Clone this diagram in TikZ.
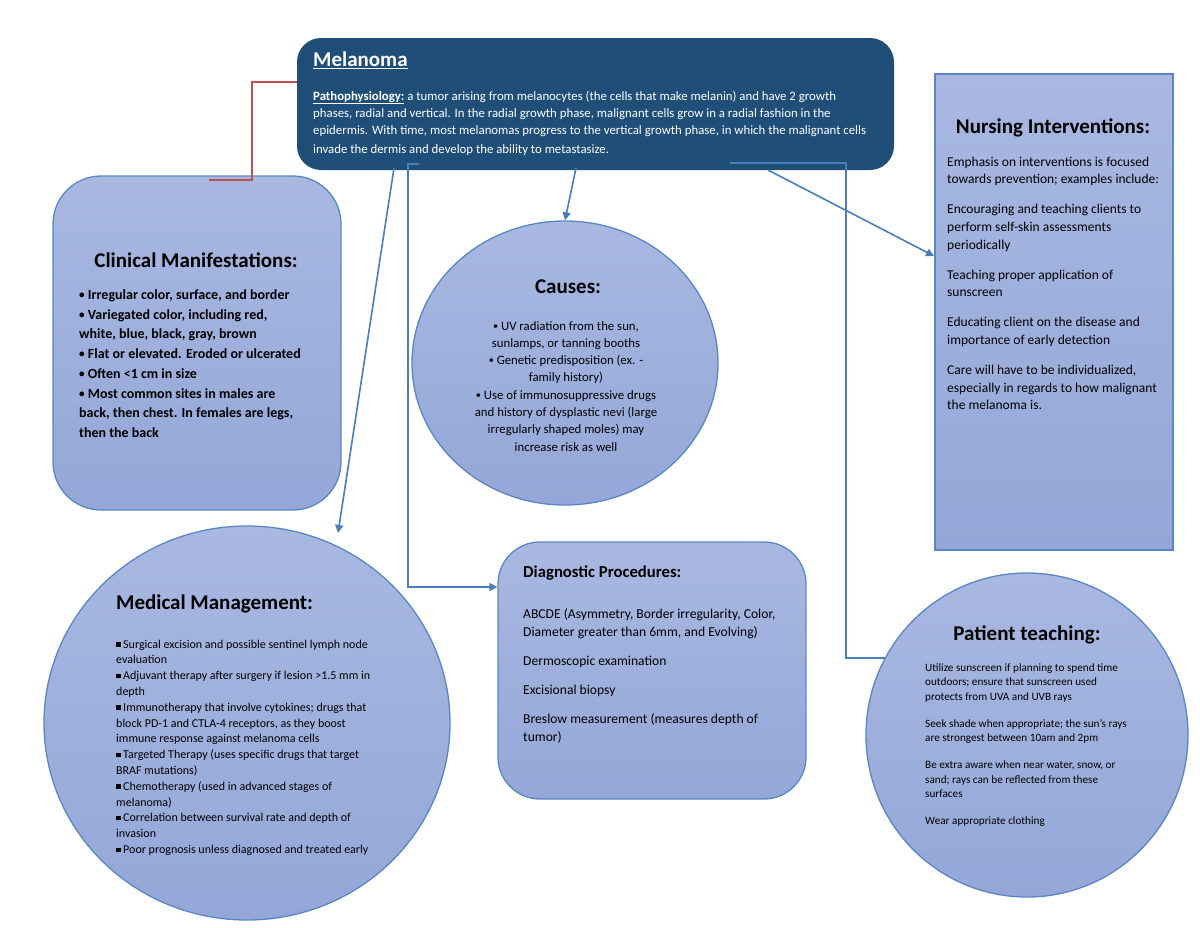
\documentclass[tikz,border=0pt]{standalone}
\usepackage{fontspec}
\setmainfont{Carlito}
\usetikzlibrary{shapes.geometric,arrows.meta}
\definecolor{darkbox}{HTML}{1F4E79}
\definecolor{boxtop}{HTML}{A8B8E1}
\definecolor{boxbot}{HTML}{94A7D8}
\definecolor{edgeblue}{HTML}{5A87C4}
\definecolor{linkblue}{HTML}{4A7EBB}
\definecolor{redlink}{HTML}{C0504D}
\newcommand{\fsz}[2]{\fontsize{#1}{#2}\selectfont}
\newcommand{\mmbul}{\rule[0.12em]{0.36em}{0.36em}}
\newcommand{\smbul}{\raisebox{0.06em}{\scalebox{0.8}{\textbullet}}}
\begin{document}
\begin{tikzpicture}[x=1pt,y=-1pt,
  shapebox/.style={draw=edgeblue, line width=1.3pt, top color=boxtop, bottom color=boxbot, inner sep=0pt},
  lbl/.style={inner sep=0pt, anchor=north west, align=left, text=black},
  ttl/.style={inner sep=0pt, font=\bfseries\fsz{21}{24}, text=black},
  conn/.style={draw=linkblue, line width=1.6pt},
  arr/.style={conn, -{Triangle[width=8pt,length=8pt]}},
  redconn/.style={draw=redlink, line width=1.6pt}]
\useasboundingbox (0,0) rectangle (1200,927);
\fill[white] (0,0) rectangle (1200,927);

% shapes
\node[fill=darkbox, rounded corners=24pt, minimum width=597pt, minimum height=132pt, inner sep=0pt] (mel) at (595.5,104) {};
\node[shapebox, rounded corners=48pt, minimum width=288pt, minimum height=334pt] (clin) at (197,343) {};
\node[shapebox, ellipse, minimum width=306pt, minimum height=284pt] (caus) at (565,363) {};
\node[shapebox, rectangle, minimum width=238pt, minimum height=476pt] (nurs) at (1054,312) {};
\node[shapebox, ellipse, minimum width=406pt, minimum height=394pt] (med) at (247,723) {};
\node[shapebox, rounded corners=42pt, minimum width=308pt, minimum height=257pt] (diag) at (652,670.5) {};
\node[shapebox, ellipse, minimum width=322pt, minimum height=324pt] (pat) at (1027,735) {};

% texts
\node[lbl, text=white, font=\bfseries\fsz{21}{24}] (meltitle) at (313,52) {\underline{Melanoma}};
\node[lbl, text=white, font=\fsz{12.8}{17}] (meltext) at (313,90.5) {\textbf{\underline{Pathophysiology:}} a tumor arising from melanocytes (the cells that make melanin) and have 2 growth\\
phases, radial and vertical. In the radial growth phase, malignant cells grow in a radial fashion in the\\
epidermis. With time, most melanomas progress to the vertical growth phase, in which the malignant cells\\[2.5pt]
invade the dermis and develop the ability to metastasize.};

\node[ttl] (clintitle) at (196,260) {Clinical Manifestations:};
\node[lbl, font=\bfseries\fsz{14}{19.7}] (clintext) at (79,289.5) {\smbul{} Irregular color, surface, and border\\
\smbul{} Variegated color, including red,\\
white, blue, black, gray, brown\\
\smbul{} Flat or elevated. Eroded or ulcerated\\
\smbul{} Often <1 cm in size\\
\smbul{} Most common sites in males are\\
back, then chest. In females are legs,\\
then the back};

\node[ttl] (caustitle) at (568,287) {Causes:};
\node[inner sep=0pt, anchor=north, align=center, font=\fsz{12.8}{17.3}] (caustext) at (566,321) {\smbul{} UV radiation from the sun,\\
sunlamps, or tanning booths\\
\smbul{} Genetic predisposition (ex. -\\
family history)\\
\smbul{} Use of immunosuppressive drugs\\
and history of dysplastic nevi (large\\
irregularly shaped moles) may\\
increase risk as well};

\node[ttl] (nurstitle) at (1053,128) {Nursing Interventions:};
\node[lbl, font=\fsz{13.5}{17.7}] (nurstext) at (947,156.5) {Emphasis on interventions is focused\\
towards prevention; examples include:\\[12.3pt]
Encouraging and teaching clients to\\
perform self-skin assessments\\
periodically\\[12.3pt]
Teaching proper application of\\
sunscreen\\[12.3pt]
Educating client on the disease and\\
importance of early detection\\[12.3pt]
Care will have to be individualized,\\
especially in regards to how malignant\\
the melanoma is.};

\node[lbl, font=\bfseries\fsz{21}{24}] (medtitle) at (116,594.5) {Medical Management:};
\node[lbl, font=\fsz{12}{15.8}] (medtext) at (116,639.5) {\mmbul{} Surgical excision and possible sentinel lymph node\\
evaluation\\
\mmbul{} Adjuvant therapy after surgery if lesion >1.5 mm in\\
depth\\
\mmbul{} Immunotherapy that involve cytokines; drugs that\\
block PD-1 and CTLA-4 receptors, as they boost\\
immune response against melanoma cells\\
\mmbul{} Targeted Therapy (uses specific drugs that target\\
BRAF mutations)\\
\mmbul{} Chemotherapy (used in advanced stages of\\
melanoma)\\
\mmbul{} Correlation between survival rate and depth of\\
invasion\\
\mmbul{} Poor prognosis unless diagnosed and treated early};

\node[lbl, font=\bfseries\fsz{16.7}{20}] (diagtitle) at (523,566) {Diagnostic Procedures:};
\node[lbl, font=\fsz{13.6}{18}] (diagtext) at (523,608.5) {ABCDE (Asymmetry, Border irregularity, Color,\\
Diameter greater than 6mm, and Evolving)\\[11pt]
Dermoscopic examination\\[11pt]
Excisional biopsy\\[11pt]
Breslow measurement (measures depth of\\
tumor)};

\node[ttl] (pattitle) at (1027,635) {Patient teaching:};
\node[lbl, font=\fsz{11.2}{14.5}] (pattext) at (925,663.5) {Utilize sunscreen if planning to spend time\\
outdoors; ensure that sunscreen used\\
protects from UVA and UVB rays\\[12.5pt]
Seek shade when appropriate; the sun’s rays\\
are strongest between 10am and 2pm\\[12.5pt]
Be extra aware when near water, snow, or\\
sand; rays can be reflected from these\\
surfaces\\[12.5pt]
Wear appropriate clothing};

% connector points
\coordinate (redA) at (mel.west |- 0,82);
\coordinate (redK) at (252,180);
\coordinate (redB) at (209,180);
\coordinate (mA) at (394,168);
\coordinate (mB) at (338,533);
\coordinate (dA) at (419,164);
\coordinate (dK) at (408,587);
\coordinate (cA) at (576,168);
\coordinate (nA) at (768,170);
\coordinate (nB) at (934,256);
\coordinate (pA) at (730,163);
\coordinate (pK) at (846,658);
\coordinate (pB) at (885,658);

% connectors
\draw[redconn] (redA) -| (redK) -- (redB);
\draw[arr] (mA) -- (mB);
\draw[arr] (dA) -| (dK) -- (dK -| diag.west);
\draw[arr] (cA) -- (caus.north);
\draw[arr] (nA) -- (nB);
\draw[conn] (pA) -| (pK) -- (pB);
\end{tikzpicture}
\end{document}
